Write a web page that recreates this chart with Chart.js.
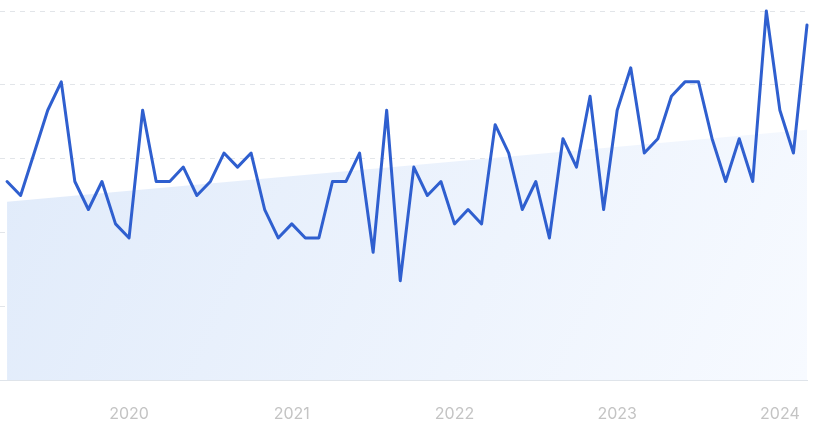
<!DOCTYPE html>
<html>
<head>
<meta charset="utf-8">
<script src="https://cdn.jsdelivr.net/npm/chart.js@4"></script>
<style>
  html, body { margin: 0; padding: 0; background: #ffffff; }
  #wrap { width: 816px; height: 424px; position: relative; }
</style>
</head>
<body>
<div id="wrap"><canvas id="c"></canvas></div>
<script>
// Monthly categories (Apr 2019 – Mar 2024)
const months = [
  '2019-04','2019-05','2019-06','2019-07','2019-08','2019-09','2019-10','2019-11','2019-12',
  '2020-01','2020-02','2020-03','2020-04','2020-05','2020-06','2020-07','2020-08','2020-09','2020-10','2020-11','2020-12',
  '2021-01','2021-02','2021-03','2021-04','2021-05','2021-06','2021-07','2021-08','2021-09','2021-10','2021-11','2021-12',
  '2022-01','2022-02','2022-03','2022-04','2022-05','2022-06','2022-07','2022-08','2022-09','2022-10','2022-11','2022-12',
  '2023-01','2023-02','2023-03','2023-04','2023-05','2023-06','2023-07','2023-08','2023-09','2023-10','2023-11','2023-12',
  '2024-01','2024-02','2024-03'
];
// Interest values (0–100)
const interest = [
  53.8, 50.0, 61.5, 73.1, 80.8, 53.8, 46.2, 53.8, 42.3,
  38.5, 73.1, 53.8, 53.8, 57.7, 50.0, 53.8, 61.5, 57.7, 61.5, 46.2, 38.5,
  42.3, 38.5, 38.5, 53.8, 53.8, 61.5, 34.6, 73.1, 26.9, 57.7, 50.0, 53.8,
  42.3, 46.2, 42.3, 69.2, 61.5, 46.2, 53.8, 38.5, 65.4, 57.7, 76.9, 46.2,
  73.1, 84.6, 61.5, 65.4, 76.9, 80.8, 80.8, 65.4, 53.8, 65.4, 53.8, 100.0,
  73.1, 61.5, 96.2
];
// Trend line values at first and last month
const trendStartEnd = [48.3, 67.8];
// Y gridline values
const yTicks = [0, 20, 40, 60, 80, 100];

const lineData = interest.map((v, i) => ({ x: i, y: v }));
const trendData = [
  { x: 0, y: trendStartEnd[0] },
  { x: months.length - 1, y: trendStartEnd[1] }
];
const yearTickIdx = months.map((m, i) => m.endsWith('-01') ? i : -1).filter(i => i >= 0);

const ctx = document.getElementById('c').getContext('2d');
new Chart(ctx, {
  type: 'line',
  data: {
    datasets: [
      {
        label: 'Interest',
        data: lineData,
        borderColor: '#2f5fcf',
        borderWidth: 3,
        borderJoinStyle: 'round',
        borderCapStyle: 'round',
        pointRadius: 0,
        tension: 0,
        fill: false,
        clip: 6,
        order: 1
      },
      {
        label: 'Trend',
        data: trendData,
        borderWidth: 0,
        borderColor: 'rgba(0,0,0,0)',
        pointRadius: 0,
        fill: 'origin',
        backgroundColor: (c) => {
          const a = c.chart.chartArea;
          if (!a) return '#e6effb';
          const g = c.chart.ctx.createLinearGradient(a.left, a.top, a.right, a.bottom);
          g.addColorStop(0, '#dfeafa');
          g.addColorStop(1, '#f7faff');
          return g;
        },
        order: 2
      }
    ]
  },
  options: {
    responsive: true,
    maintainAspectRatio: false,
    animation: false,
    layout: { padding: { top: 11, right: 9, left: 0, bottom: 0 } },
    plugins: { legend: { display: false }, tooltip: { enabled: false } },
    scales: {
      x: {
        type: 'linear',
        min: -0.52,
        max: months.length - 1,
        afterBuildTicks: (s) => { s.ticks = yearTickIdx.map(v => ({ value: v })); },
        afterFit: (s) => { s.height = 44; s.paddingLeft = 0; s.paddingRight = 0; },
        ticks: {
          autoSkip: false,
          maxRotation: 0,
          padding: 25,
          color: '#c4c4c4',
          font: { family: 'Inter', size: 16 },
          callback: (v) => months[v] ? months[v].slice(0, 4) : ''
        },
        grid: { display: true, color: 'rgba(0,0,0,0)', drawTicks: false },
        border: { display: true, color: '#dfe4ea', width: 1 }
      },
      y: {
        min: 0,
        max: 100,
        afterBuildTicks: (s) => { s.ticks = yTicks.map(v => ({ value: v })); },
        afterFit: (s) => { s.width = 0; s.paddingTop = 0; s.paddingBottom = 0; },
        ticks: { display: false },
        grid: {
          drawTicks: false,
          color: (c) => (c.tick && c.tick.value === 0) ? 'rgba(0,0,0,0)' : '#e2e5e9',
          lineWidth: 1
        },
        border: { display: false, dash: [5, 5] }
      }
    }
  }
});
</script>
</body>
</html>
